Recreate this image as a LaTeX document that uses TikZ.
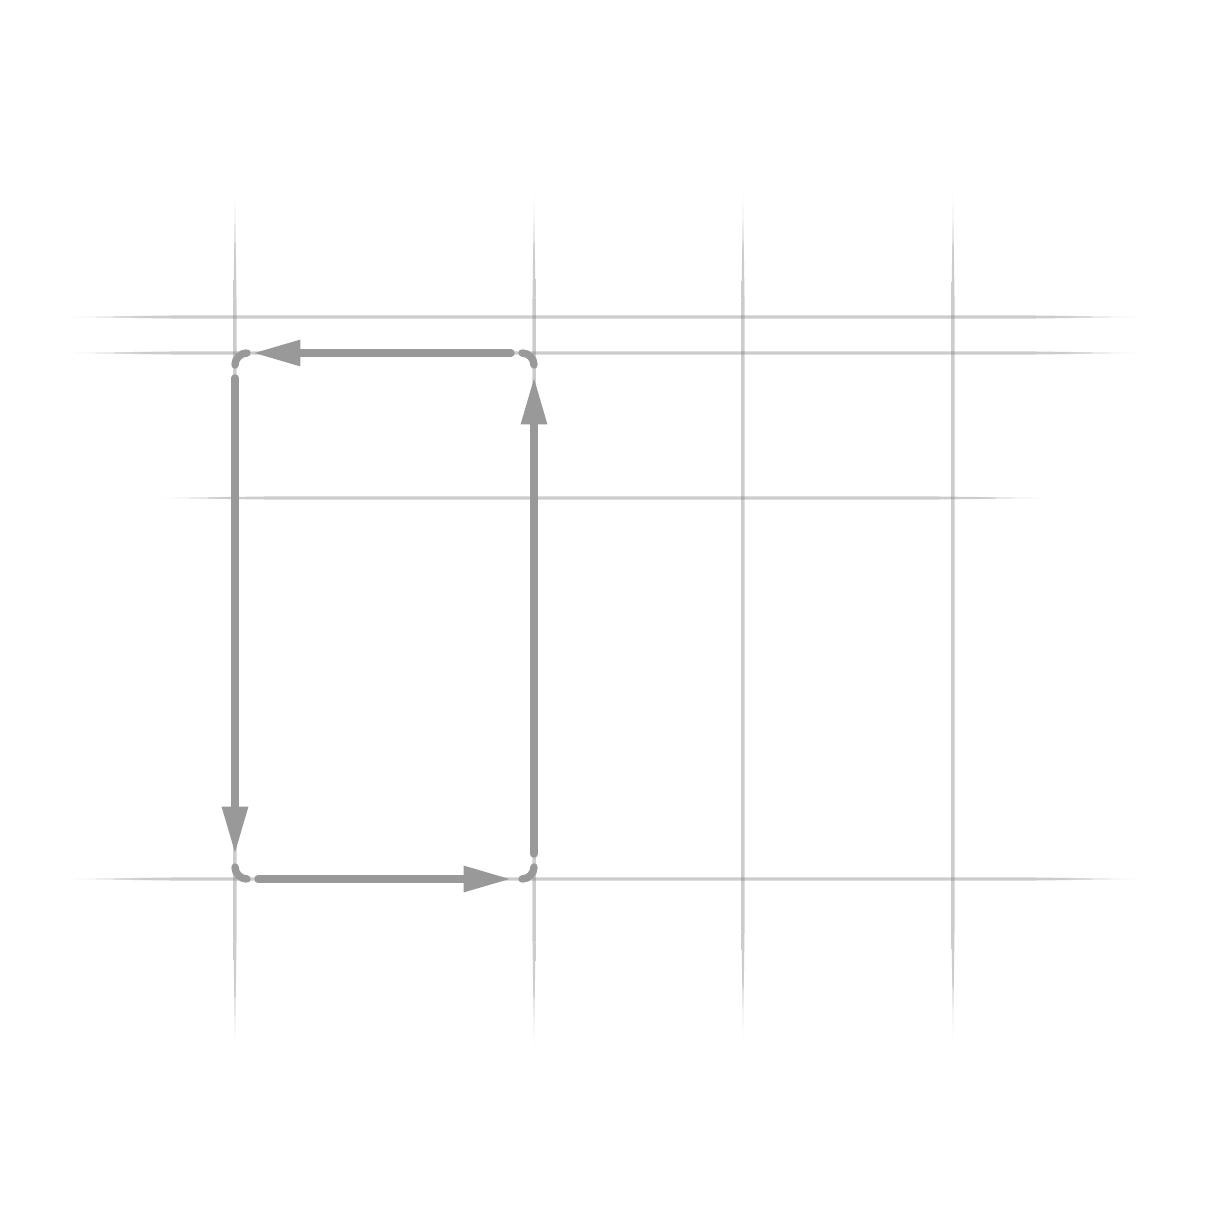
\documentclass[tikz,border=0pt]{standalone}
\usetikzlibrary{arrows.meta}
\definecolor{arrowgray}{RGB}{153,153,153}
\pgfdeclarehorizontalshading{hfade}{100bp}{rgb(0bp)=(1,1,1); rgb(25bp)=(1,1,1); rgb(29bp)=(0.5,0.5,0.5); rgb(71bp)=(0.5,0.5,0.5); rgb(75bp)=(1,1,1); rgb(100bp)=(1,1,1)}
\pgfdeclareverticalshading{vfade}{100bp}{rgb(0bp)=(1,1,1); rgb(25bp)=(1,1,1); rgb(29bp)=(0.5,0.5,0.5); rgb(71bp)=(0.5,0.5,0.5); rgb(75bp)=(1,1,1); rgb(100bp)=(1,1,1)}
\newcommand\hgridline[3]{% y, x0, x1
  \shade[shading=hfade, opacity=0.4] (#2,#1) -- (#2+120,#1-1.6) -- (#3-120,#1-1.6) -- (#3,#1) -- (#3-120,#1+1.6) -- (#2+120,#1+1.6) -- cycle;}
\newcommand\vgridline[3]{% x, y0, y1
  \shade[shading=vfade, opacity=0.4] (#1,#2) -- (#1-1.6,#2+120) -- (#1-1.6,#3-120) -- (#1,#3) -- (#1+1.6,#3-120) -- (#1+1.6,#2+120) -- cycle;}
\tikzset{
  flow/.style={draw=arrowgray, line width=2.1pt, line cap=round, -{Triangle[length=13.5pt,width=7pt]}},
  cornerarc/.style={draw=arrowgray, line width=2.1pt, line cap=round},
}
\begin{document}
\begin{tikzpicture}[x=0.01cm, y=-0.01cm]
\fill[white] (0,0) rectangle (1213,1213);
\useasboundingbox (0,0) rectangle (1213,1213);
% grid
\hgridline{317}{58}{1148}
\hgridline{353}{58}{1148}
\hgridline{498}{152}{1052}
\hgridline{879}{58}{1148}
\vgridline{235}{186}{1054}
\vgridline{534}{186}{1054}
\vgridline{743}{186}{1045}
\vgridline{953}{186}{1045}
% coordinates
\coordinate (tlA) at (247,353); \coordinate (tlB) at (235,365);
\coordinate (trA) at (522,353); \coordinate (trB) at (534,365);
\coordinate (blA) at (235,867); \coordinate (blB) at (247,879);
\coordinate (brA) at (522,879); \coordinate (brB) at (534,867);
\coordinate (ls) at (235,378); \coordinate (le) at (235,854);
\coordinate (bs) at (258,879); \coordinate (be) at (511,879);
\coordinate (rs) at (534,854); \coordinate (re) at (534,377);
\coordinate (ts) at (511,353); \coordinate (te) at (253,353);
% arrows
\draw[flow] (ls) -- (le);
\draw[flow] (bs) -- (be);
\draw[flow] (rs) -- (re);
\draw[flow] (ts) -- (te);
% corners
\draw[cornerarc] (tlA) .. controls (240.4,353) and (235,358.4) .. (tlB);
\draw[cornerarc] (trA) .. controls (528.6,353) and (534,358.4) .. (trB);
\draw[cornerarc] (blA) .. controls (235,873.6) and (240.4,879) .. (blB);
\draw[cornerarc] (brA) .. controls (528.6,879) and (534,873.6) .. (brB);
\end{tikzpicture}
\end{document}
